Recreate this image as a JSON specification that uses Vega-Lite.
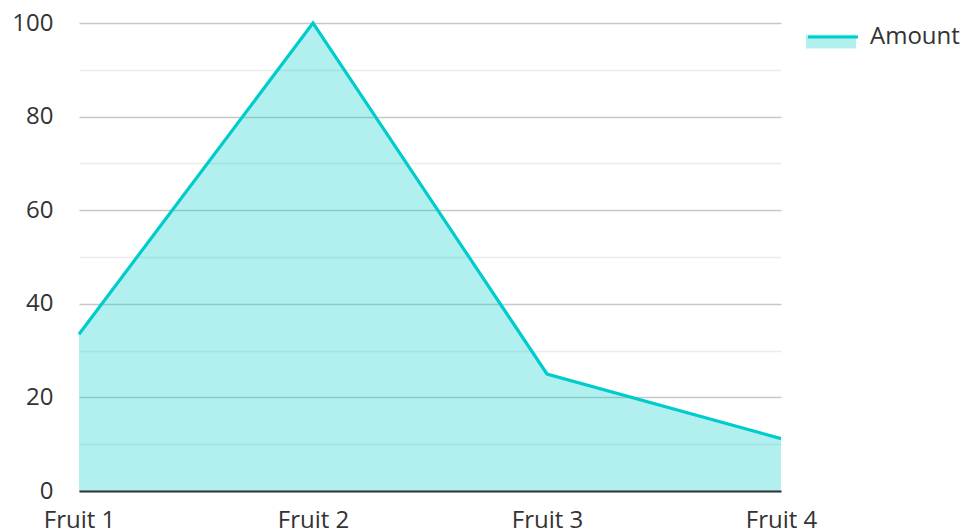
{
  "$schema": "https://vega.github.io/schema/vega-lite/v6.json",
  "width": 702,
  "height": 468,
  "autosize": {"type": "none"},
  "padding": {"left": 79, "top": 23, "right": 182, "bottom": 41},
  "config": {
    "font": "Open Sans",
    "view": {"stroke": null},
    "legend": {"padding": 0}
  },
  "data": {
    "values": [
      {"fruit": "Fruit 1", "amount": 33.5, "series": "Amount"},
      {"fruit": "Fruit 2", "amount": 100, "series": "Amount"},
      {"fruit": "Fruit 3", "amount": 25, "series": "Amount"},
      {"fruit": "Fruit 4", "amount": 11.2, "series": "Amount"}
    ]
  },
  "encoding": {
    "x": {
      "field": "fruit",
      "type": "ordinal",
      "sort": null,
      "scale": {"type": "point", "padding": 0},
      "axis": {
        "title": null,
        "labelAngle": 0,
        "labelFontSize": 24,
        "labelColor": "#333333",
        "ticks": false,
        "labelPadding": 17,
        "domainColor": "#333333",
        "domainWidth": 2,
        "grid": false,
        "zindex": 1
      }
    },
    "y": {
      "field": "amount",
      "type": "quantitative",
      "scale": {"domain": [0, 100], "nice": false},
      "axis": {
        "title": null,
        "values": [0, 10, 20, 30, 40, 50, 60, 70, 80, 90, 100],
        "labelExpr": "datum.value % 20 === 0 ? datum.label : ''",
        "labelFontSize": 24,
        "labelColor": "#333333",
        "ticks": false,
        "domain": false,
        "labelPadding": 26,
        "grid": true,
        "gridColor": {"condition": {"test": "datum.value % 20 === 0", "value": "#c8c8c8"}, "value": "#ebebeb"},
        "gridWidth": 1.5
      }
    }
  },
  "layer": [
    {
      "mark": {"type": "area", "opacity": 0.3},
      "encoding": {
        "fill": {
          "field": "series",
          "type": "nominal",
          "scale": {"domain": ["Amount"], "range": ["#00cccc"]},
          "legend": {
            "orient": "none",
            "legendX": 727,
            "legendY": -6.5,
            "title": null,
            "symbolType": "M-1,-0.28H1V0.28H-1Z",
            "symbolSize": 2500,
            "symbolOpacity": 0.3,
            "symbolStrokeWidth": 0,
            "labelExpr": "''",
            "labelFontSize": 24
          }
        }
      }
    },
    {
      "mark": {"type": "line", "strokeWidth": 3.2, "color": "#00cccc"},
      "encoding": {
        "stroke": {
          "field": "series",
          "type": "nominal",
          "scale": {"range": ["#00cccc"]},
          "legend": {
            "orient": "none",
            "legendX": 727,
            "legendY": -13,
            "title": null,
            "symbolType": "stroke",
            "symbolSize": 2500,
            "symbolStrokeWidth": 3.2,
            "labelFontSize": 24,
            "labelColor": "#333333",
            "labelOffset": 10
          }
        }
      }
    }
  ]
}
